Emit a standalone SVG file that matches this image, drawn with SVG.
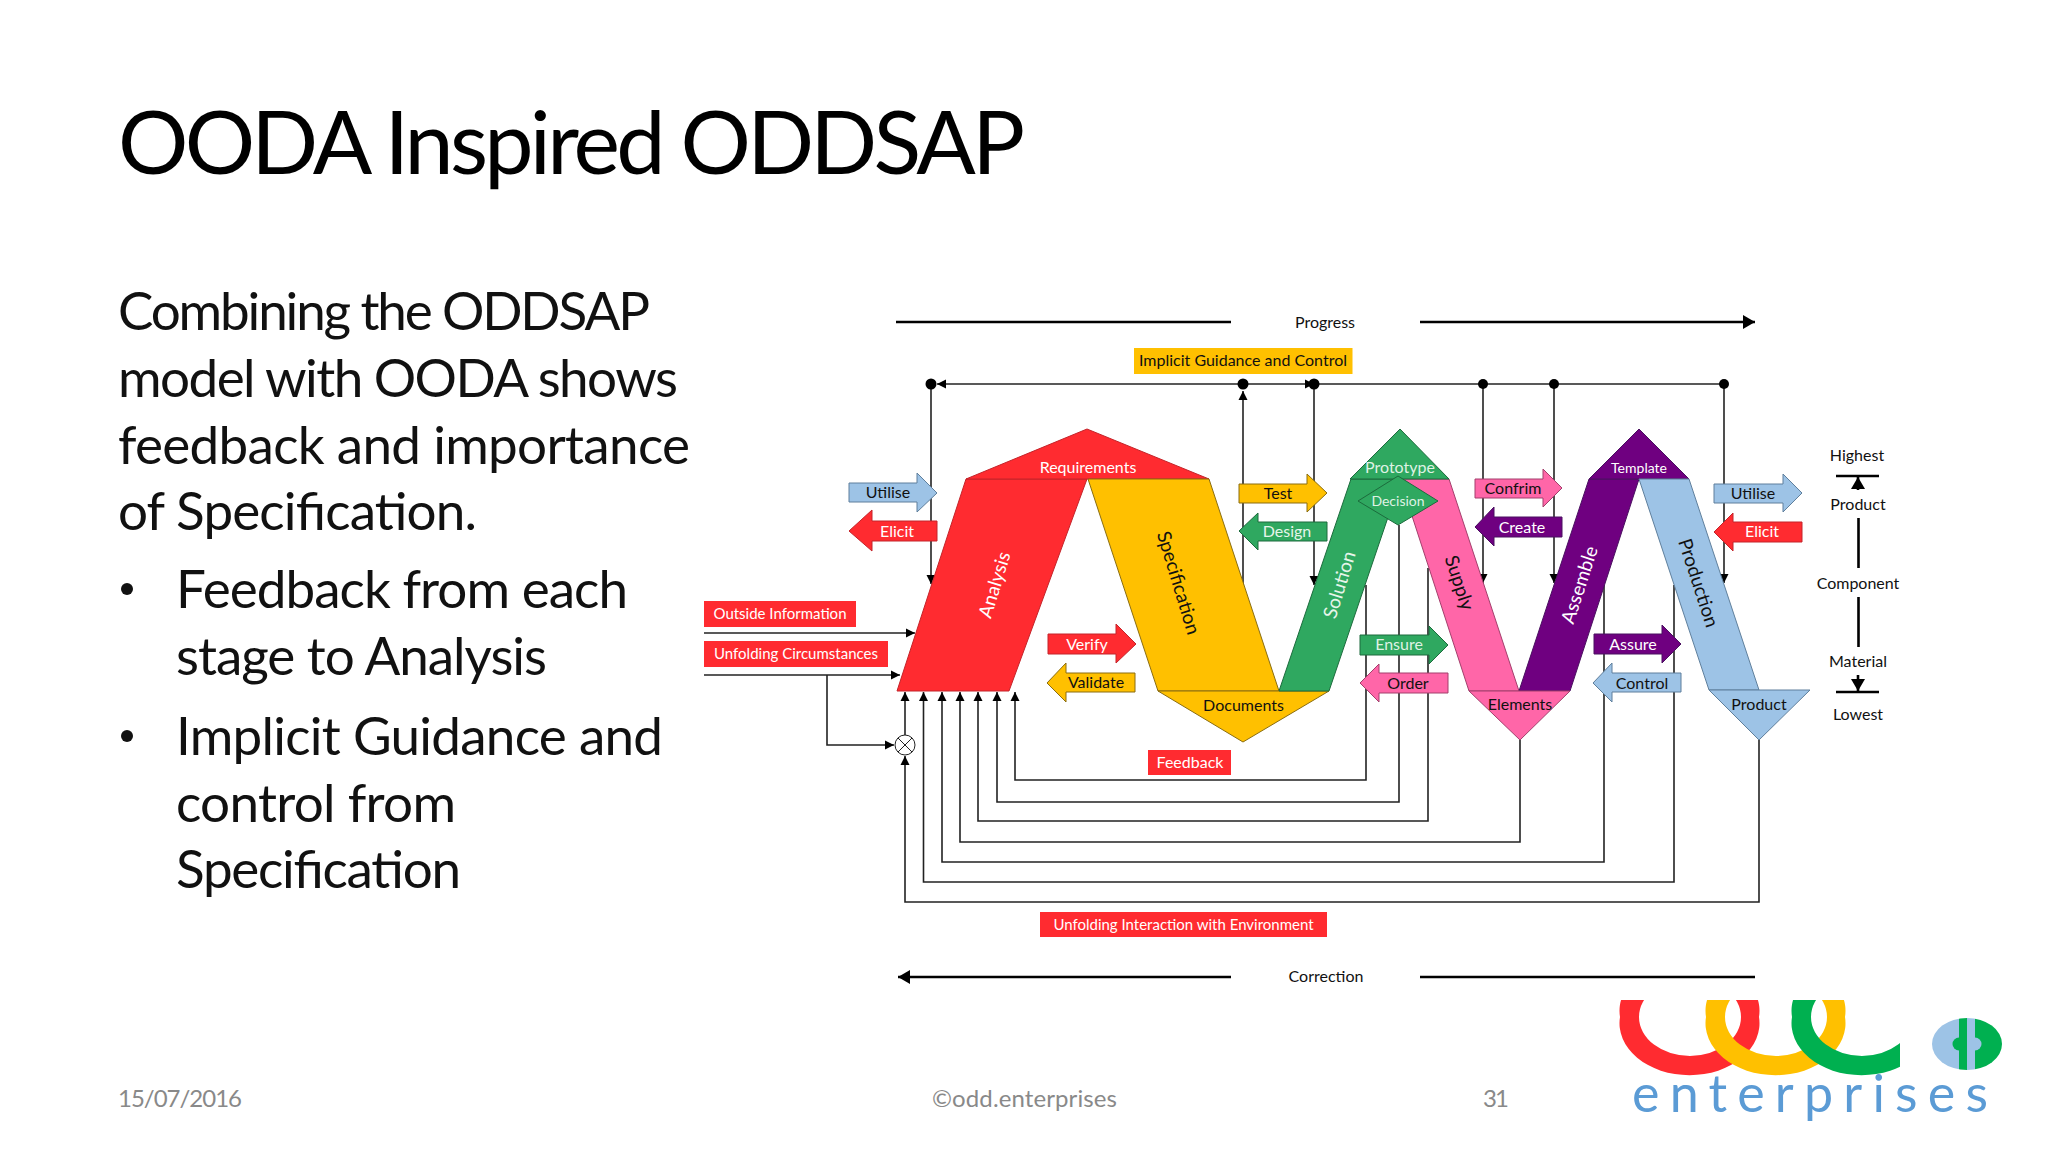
<svg xmlns="http://www.w3.org/2000/svg" width="2048" height="1152" viewBox="0 0 2048 1152">
<style>
text{font-family:"Lato","Open Sans","Liberation Sans",sans-serif}
.t{font-size:88px;fill:#000}
.b{font-size:53px;fill:#111}
.f{font-size:24px;fill:#898989}
.l{font-size:16px;text-anchor:middle;fill:#111}
.w{fill:#fff}
.big{font-size:19px}
.r{fill:#ff2b30;stroke:#c4242a;stroke-width:1}
.y{fill:#ffc000;stroke:#8a6d10;stroke-width:1}
.g{fill:#2fa860;stroke:#1c6b3c;stroke-width:1}
.p{fill:#ff66a8;stroke:#a33f6c;stroke-width:1}
.v{fill:#6f0080;stroke:#4a1060;stroke-width:1}
.u{fill:#9dc3e6;stroke:#5f7f9c;stroke-width:1}
.box{fill:#ff2b30}
.ln{fill:none;stroke:#222;stroke-width:1.6}
.a{marker-end:url(#ah)}
.th{fill:none;stroke:#000;stroke-width:2.6}
.ta{marker-end:url(#bh)}
</style>
<defs>
<marker id="ah" markerUnits="userSpaceOnUse" markerWidth="10" markerHeight="10" refX="9" refY="5" orient="auto"><path d="M0,0.5L9,5L0,9.500z" fill="#000"/></marker>
<marker id="bh" markerUnits="userSpaceOnUse" markerWidth="13" markerHeight="14" refX="12" refY="7" orient="auto"><path d="M0,0L12,7L0,14z" fill="#000"/></marker>
<clipPath id="lc"><rect x="1600" y="1000" width="300" height="80"/></clipPath>
<clipPath id="oc"><ellipse cx="1967" cy="1044" rx="35" ry="26"/></clipPath>
</defs>
<rect width="2048" height="1152" fill="#fff"/>
<g id="slide-text">
<text class="t" x="118" y="174" textLength="907">OODA Inspired ODDSAP</text>
<text class="b" x="118" y="330" textLength="532">Combining the ODDSAP</text>
<text class="b" x="118" y="397" textLength="560">model with OODA shows</text>
<text class="b" x="118" y="464" textLength="572">feedback and importance</text>
<text class="b" x="118" y="530" textLength="359">of Specification.</text>
<circle cx="127" cy="589" r="6" fill="#111"/>
<text class="b" x="176" y="608" textLength="452">Feedback from each</text>
<text class="b" x="176" y="675" textLength="371">stage to Analysis</text>
<circle cx="127" cy="736" r="6" fill="#111"/>
<text class="b" x="176" y="755" textLength="487">Implicit Guidance and</text>
<text class="b" x="176" y="822" textLength="280">control from</text>
<text class="b" x="176" y="888" textLength="285">Specification</text>
<text class="f" x="118" y="1107" textLength="124">15/07/2016</text>
<text class="f" x="932" y="1107" textLength="185">©odd.enterprises</text>
<text class="f" x="1483" y="1107" textLength="26">31</text>
</g>
<g id="connectors">
<path class="th" d="M896,322H1231"/><path class="th ta" d="M1420,322H1755"/>
<path class="th" d="M1420,977H1755"/><path class="th ta" d="M1231,977H898"/>
<path class="ln a" d="M1243,384H937"/><path class="ln a" d="M1243,384H1314"/><path class="ln" d="M1314,384H1724"/>
<path class="ln a" d="M1243,585V391"/>
<path class="ln a" d="M931,384V584"/><path class="ln a" d="M1314,384V585"/><path class="ln a" d="M1483,384V583"/><path class="ln a" d="M1554,384V583"/><path class="ln a" d="M1724,384V583"/>
<circle cx="931" cy="384" r="5.500"/><circle cx="1243" cy="384" r="5.500"/><circle cx="1314" cy="384" r="5.500"/><circle cx="1483" cy="384" r="5"/><circle cx="1554" cy="384" r="5"/><circle cx="1724" cy="384" r="5"/>
<path class="ln a" d="M704,633H915"/><path class="ln a" d="M704,675H900"/><path class="ln a" d="M827,675V745H894"/>
<path class="ln a" d="M905,735V692"/>
<path class="ln a" d="M1759,740V902H905V756"/>
<path class="ln a" d="M1674,585V882H923.500V692"/>
<path class="ln a" d="M1604,585V862H942V692"/>
<path class="ln a" d="M1520,740V842H960V692"/>
<path class="ln a" d="M1428,568V821H978V692"/>
<path class="ln a" d="M1399,525V802H997V692"/>
<path class="ln a" d="M1366,585V780H1015V692"/>
<path class="th" d="M1836,476H1879M1836,692H1879M1858.500,518V568M1858.500,597V647"/>
<path class="th ta" d="M1858,490V477"/><path class="th ta" d="M1858,675V691"/>
</g>
<g id="n-analysis"><polygon class="r" points="897,691 966,479 1087,479 1009,691"/><text class="l w big" transform="translate(995,585) rotate(-73)" y="6">Analysis</text></g>
<g id="n-requirements"><polygon class="r" points="966,479 1087,429 1209,479"/><text class="l w" x="1088" y="473">Requirements</text></g>
<g id="n-specification"><polygon class="y" points="1088,479 1209,479 1279,691 1158,691"/><text class="l big" transform="translate(1178,583) rotate(73)" y="6">Specification</text></g>
<g id="n-documents"><polygon class="y" points="1158,691 1329,691 1243,742"/><text class="l" x="1243.500" y="711">Documents</text></g>
<g id="n-solution"><polygon class="g" points="1279,691 1351,479 1401,479 1329,691"/><text class="l w big" style="fill:#e6f5ea" transform="translate(1340,585) rotate(-73)" y="6">Solution</text></g>
<g id="n-supply"><polygon class="p" points="1400,479 1449,479 1519,691 1469,691"/><text class="l big" transform="translate(1459,583) rotate(72)" y="6">Supply</text></g>
<g id="n-prototype"><polygon class="g" points="1350,479 1400,429 1449,479"/><text class="l" style="fill:#dff2e4" x="1400" y="473">Prototype</text></g>
<g id="n-decision"><polygon class="g" points="1358,501 1398,476 1438,501 1398,525"/><text class="l" style="fill:#dff2e4;font-size:14px" x="1398" y="506">Decision</text></g>
<g id="n-assemble"><polygon class="v" points="1519,691 1589,479 1639,479 1570,691"/><text class="l w big" transform="translate(1580,585) rotate(-72)" y="6">Assemble</text></g>
<g id="n-template"><polygon class="v" points="1589,479 1639,429 1689,479"/><text class="l w" style="font-size:14px" x="1639" y="473">Template</text></g>
<g id="n-production"><polygon class="u" points="1639,479 1689,479 1759,690 1709,690"/><text class="l big" transform="translate(1698,583) rotate(72)" y="6">Production</text></g>
<g id="n-elements"><polygon class="p" points="1469,691 1570,691 1520,740"/><text class="l" x="1520" y="710">Elements</text></g>
<g id="n-product"><polygon class="u" points="1709,690 1810,690 1759,740"/><text class="l" x="1759" y="710">Product</text></g>
<g id="n-utilise-l"><polygon class="u" points="849,483 917,483 917,473 937,493 917,512 917,502 849,502"/><text class="l" x="888" y="498">Utilise</text></g>
<g id="n-elicit-l"><polygon class="r" points="849,531 872,510 872,521 937,521 937,541 872,541 872,551"/><text class="l w" x="897" y="537">Elicit</text></g>
<g id="n-test"><polygon class="y" points="1239,484 1307,484 1307,474 1327,493 1307,512 1307,503 1239,503"/><text class="l" x="1278" y="499">Test</text></g>
<g id="n-design"><polygon class="g" points="1239,531 1258,513 1258,522 1327,522 1327,541 1258,541 1258,550"/><text class="l w" style="fill:#e6f5ea" x="1287" y="537">Design</text></g>
<g id="n-verify"><polygon class="r" points="1048,634 1116,634 1116,624 1136,644 1116,663 1116,654 1048,654"/><text class="l w" x="1087" y="650">Verify</text></g>
<g id="n-validate"><polygon class="y" points="1047,683 1066,663 1066,673 1135,673 1135,692 1066,692 1066,702"/><text class="l" x="1096" y="688">Validate</text></g>
<g id="n-ensure"><polygon class="g" points="1360,635 1429,635 1429,626 1448,645 1429,664 1429,655 1360,655"/><text class="l" style="fill:#dff2e4" x="1399" y="650">Ensure</text></g>
<g id="n-order"><polygon class="p" points="1360,683 1379,664 1379,673 1448,673 1448,693 1379,693 1379,702"/><text class="l" x="1408" y="689">Order</text></g>
<g id="n-confrim"><polygon class="p" points="1475,479 1543,479 1543,469 1562,488 1543,507 1543,498 1475,498"/><text class="l" x="1513" y="494">Confrim</text></g>
<g id="n-create"><polygon class="v" points="1475,527 1494,507 1494,517 1562,517 1562,537 1494,537 1494,546"/><text class="l w" x="1522" y="533">Create</text></g>
<g id="n-assure"><polygon class="v" points="1594,634 1662,634 1662,625 1681,644 1662,663 1662,654 1594,654"/><text class="l w" x="1633" y="650">Assure</text></g>
<g id="n-control"><polygon class="u" points="1593,683 1612,663 1612,673 1681,673 1681,692 1612,692 1612,702"/><text class="l" x="1642" y="689">Control</text></g>
<g id="n-utilise-r"><polygon class="u" points="1714,484 1783,484 1783,474 1802,493 1783,512 1783,503 1714,503"/><text class="l" x="1753" y="499">Utilise</text></g>
<g id="n-elicit-r"><polygon class="r" points="1714,532 1733,513 1733,522 1802,522 1802,542 1733,542 1733,551"/><text class="l w" x="1762" y="537">Elicit</text></g>
<g id="n-xor"><circle cx="905" cy="745" r="10" fill="#fff" stroke="#222" stroke-width="1"/><path d="M898,738L912,752M912,738L898,752" stroke="#222" stroke-width="1"/></g>
<g id="n-progress"><text class="l" x="1325" y="328">Progress</text></g>
<g id="n-correction"><text class="l" x="1326" y="982">Correction</text></g>
<g id="n-implicit"><rect x="1134" y="348" width="218.500" height="26" fill="#ffc000"/><text class="l" x="1243" y="366">Implicit Guidance and Control</text></g>
<g id="n-outside"><rect class="box" x="704" y="601" width="152" height="26"/><text class="l w" style="font-size:15px" x="780" y="619">Outside Information</text></g>
<g id="n-unfolding"><rect class="box" x="704" y="641" width="184" height="26"/><text class="l w" style="font-size:15px" x="796" y="659">Unfolding Circumstances</text></g>
<g id="n-feedback"><rect class="box" x="1148" y="750" width="83" height="25"/><text class="l w" x="1190" y="768">Feedback</text></g>
<g id="n-interaction"><rect class="box" x="1040" y="912" width="287" height="25"/><text class="l w" style="font-size:15px" x="1183.500" y="930">Unfolding Interaction with Environment</text></g>
<g id="n-scale">
<text class="l" x="1857" y="461">Highest</text><text class="l" x="1858" y="510">Product</text><text class="l" x="1858" y="589">Component</text><text class="l" x="1858" y="667">Material</text><text class="l" x="1858" y="720">Lowest</text>
</g>
<g id="logo">
<g clip-path="url(#lc)">
<path fill="#ff2b30" fill-rule="evenodd" d="M1620,1017a70,52 0 1 0 139,0a70,52 0 1 0 -139,0zM1639,1017a51,39 0 1 0 102,0a51,39 0 1 0 -102,0z"/>
<path fill="#ffc000" fill-rule="evenodd" d="M1706,1017a70,52 0 1 0 139,0a70,52 0 1 0 -139,0zM1725,1017a51,39 0 1 0 102,0a51,39 0 1 0 -102,0z"/>
<path fill="#00b050" fill-rule="evenodd" d="M1792,1017a70,52 0 1 0 139,0a70,52 0 1 0 -139,0zM1811,1017a51,39 0 1 0 102,0a51,39 0 1 0 -102,0z"/>
</g>
<g clip-path="url(#oc)">
<rect x="1930" y="1015" width="29" height="60" fill="#9dc3e6"/>
<rect x="1959" y="1015" width="8" height="60" fill="#00b050"/>
<rect x="1967" y="1015" width="8" height="60" fill="#9dc3e6"/>
<rect x="1975" y="1015" width="30" height="60" fill="#00b050"/>
</g>
<circle cx="1959" cy="1044" r="6.500" fill="#00b050"/><circle cx="1975" cy="1044" r="6.500" fill="#9dc3e6"/>
<text x="1632" y="1112" style="font-size:52px;fill:#5b9bd5" textLength="356" lengthAdjust="spacing">enterprises</text>
</g>
</svg>
